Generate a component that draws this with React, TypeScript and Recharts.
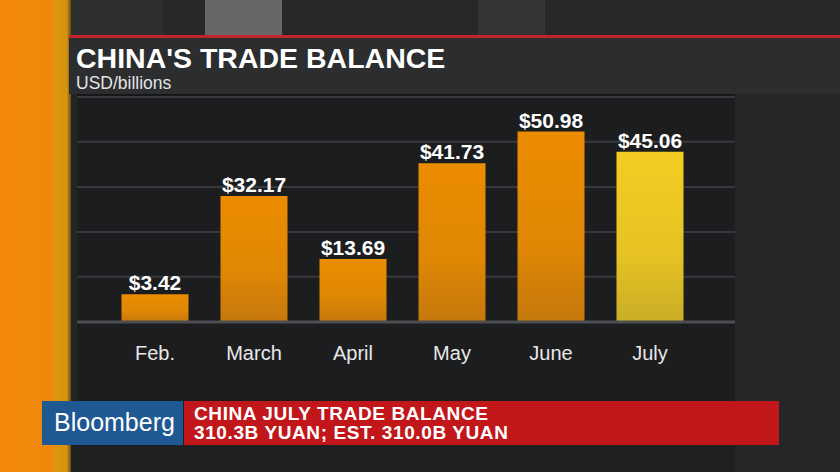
import React from "react";
import { BarChart, Bar, XAxis, YAxis, CartesianGrid, LabelList, Cell } from "recharts";

const months = ["Feb.", "March", "April", "May", "June", "July"];
const tradeBalance = [3.42, 32.17, 13.69, 41.73, 50.98, 45.06];
const gridValues = [8.5, 21.6, 34.8, 48];
const axisFloor = -4.7;
const axisCeiling = 61.1;
const highlightMonth = "July";

const font = "'Liberation Sans', Arial, Helvetica, sans-serif";

export default function App() {
  // each bar runs from the bottom of the axis up to its value
  const data = months.map((month, i) => ({
    month,
    balance: tradeBalance[i],
    range: [axisFloor, tradeBalance[i]],
  }));

  return (
    <div style={{ position: "absolute", left: 0, top: 0, width: 840, height: 472, overflow: "hidden", background: "#242526" }}>
      <svg width={840} height={472} style={{ position: "absolute", left: 0, top: 0 }}>
        <defs>
          <linearGradient id="strip" x1="0" y1="0" x2="1" y2="0">
            <stop offset="0%" stopColor="#f2880c" />
            <stop offset="72%" stopColor="#ee880b" />
            <stop offset="80%" stopColor="#dc960f" />
            <stop offset="94%" stopColor="#d49312" />
            <stop offset="100%" stopColor="#6a4a10" />
          </linearGradient>
        </defs>
        {/* studio backdrop */}
        <rect x={70} y={0} width={770} height={36} fill="#282828" />
        <rect x={70} y={0} width={93} height={36} fill="#2f2f2f" />
        <rect x={205} y={0} width={77} height={36} fill="#676767" />
        <rect x={478} y={0} width={67} height={36} fill="#343434" />
        <rect x={0} y={0} width={71} height={472} fill="url(#strip)" />
        {/* title panel */}
        <rect x={69} y={35} width={771} height={3} fill="#c2262b" />
        <rect x={69} y={38} width={771} height={56} fill="#2b2d2f" />
        <rect x={735} y={94} width={105} height={378} fill="#252627" />
        <rect x={77} y={94} width={658} height={3} fill="#161719" />
        <rect x={77} y={97} width={658} height={304} fill="#1c1d1f" />
        <rect x={71} y={401} width={664} height={71} fill="#1f2021" />
        <text x={76} y={68} fill="#ffffff" fontFamily={font} fontWeight="bold" fontSize={28.5}>
          CHINA'S TRADE BALANCE
        </text>
        <text x={76} y={89} fill="#e4e4e4" fontFamily={font} fontSize={17.5}>
          USD/billions
        </text>
        {/* ticker */}
        <rect x={42} y={401} width={141} height={44} fill="#1f5893" />
        <rect x={184} y={401} width={595} height={44} fill="#c1171b" />
        <text x={54} y={431} fill="#ffffff" fontFamily={font} fontSize={25}>
          Bloomberg
        </text>
        <text x={194} y={420} fill="#ffffff" fontFamily={font} fontWeight="bold" fontSize={19} letterSpacing={0.6}>
          CHINA JULY TRADE BALANCE
        </text>
        <text x={194} y={439} fill="#ffffff" fontFamily={font} fontWeight="bold" fontSize={19} letterSpacing={0.6}>
          310.3B YUAN; EST. 310.0B YUAN
        </text>
      </svg>

      <div style={{ position: "absolute", left: 0, top: 0 }}>
        <BarChart width={840} height={472} data={data} margin={{ top: 97, right: 105, bottom: 110, left: 77 }}>
          <defs>
            <linearGradient id="barOrange" x1="0" y1="0" x2="0" y2="1">
              <stop offset="0%" stopColor="#ec8c00" />
              <stop offset="60%" stopColor="#e08704" />
              <stop offset="100%" stopColor="#c4780c" />
            </linearGradient>
            <linearGradient id="barYellow" x1="0" y1="0" x2="0" y2="1">
              <stop offset="0%" stopColor="#f3cd22" />
              <stop offset="60%" stopColor="#e6c323" />
              <stop offset="100%" stopColor="#c9ad26" />
            </linearGradient>
          </defs>
          <CartesianGrid vertical={false} stroke="#38393c" strokeWidth={2} />
          <XAxis
            dataKey="month"
            height={40}
            padding={{ left: 28.5, right: 35.5 }}
            tickLine={false}
            tickMargin={18}
            axisLine={{ stroke: "#4d4e51", strokeWidth: 3 }}
            tick={{ fill: "#e8e8e8", fontSize: 20, fontFamily: font }}
          />
          <YAxis hide domain={[axisFloor, axisCeiling]} ticks={gridValues} width={0} />
          <Bar dataKey="range" barSize={67} isAnimationActive={false}>
            {data.map((d) => (
              <Cell key={d.month} fill={d.month === highlightMonth ? "url(#barYellow)" : "url(#barOrange)"} />
            ))}
            <LabelList
              dataKey="balance"
              position="top"
              offset={4}
              formatter={(v: number) => `$${v.toFixed(2)}`}
              fill="#ffffff"
              fontSize={21}
              fontWeight="bold"
              fontFamily={font}
            />
          </Bar>
        </BarChart>
      </div>
    </div>
  );
}
